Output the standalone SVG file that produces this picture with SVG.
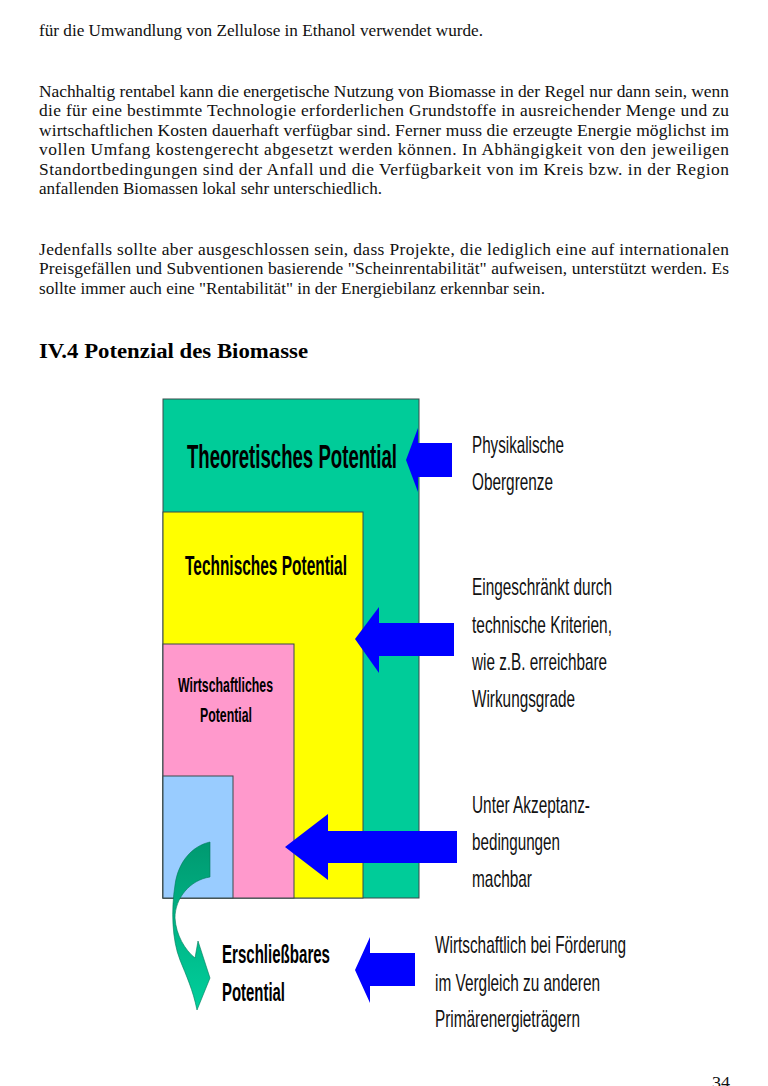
<svg xmlns="http://www.w3.org/2000/svg" width="768" height="1086" viewBox="0 0 768 1086">
<style>
.body{font-family:'Times New Roman','Liberation Serif',Tinos,serif;font-size:16px;fill:#111}
.head{font-family:'Times New Roman','Liberation Serif',Tinos,serif;font-size:20px;font-weight:bold;fill:#000}
.lb{font-family:'Liberation Sans',Arial,sans-serif;font-weight:bold;fill:#000}
.lr{font-family:'Liberation Sans',Arial,sans-serif;font-size:24px;fill:#111}
.layer{stroke:#3a4a4a;stroke-width:1}
.arrow{fill:#0000FF}
</style>
<defs>
<linearGradient id="gcurve" x1="0" y1="0" x2="0" y2="1">
<stop offset="0" stop-color="#009970"/>
<stop offset="1" stop-color="#00D09C"/>
</linearGradient>
</defs>
<rect x="0" y="0" width="768" height="1086" fill="#ffffff"/>
<g id="text-body" transform="scale(1.09,1)">
<text class="body" x="35.78" y="36" textLength="407.3" lengthAdjust="spacingAndGlyphs">für die Umwandlung von Zellulose in Ethanol verwendet wurde.</text>
<text class="body" x="35.78" y="97" textLength="633" lengthAdjust="spacing">Nachhaltig rentabel kann die energetische Nutzung von Biomasse in der Regel nur dann sein, wenn</text>
<text class="body" x="35.78" y="116.5" textLength="633" lengthAdjust="spacing">die für eine bestimmte Technologie erforderlichen Grundstoffe in ausreichender Menge und zu</text>
<text class="body" x="35.78" y="136" textLength="633" lengthAdjust="spacing">wirtschaftlichen Kosten dauerhaft verfügbar sind. Ferner muss die erzeugte Energie möglichst im</text>
<text class="body" x="35.78" y="155.5" textLength="633" lengthAdjust="spacing">vollen Umfang kostengerecht abgesetzt werden können. In Abhängigkeit von den jeweiligen</text>
<text class="body" x="35.78" y="175" textLength="633" lengthAdjust="spacing">Standortbedingungen sind der Anfall und die Verfügbarkeit von im Kreis bzw. in der Region</text>
<text class="body" x="35.78" y="194.5" textLength="314.7" lengthAdjust="spacingAndGlyphs">anfallenden Biomassen lokal sehr unterschiedlich.</text>
<text class="body" x="35.78" y="255" textLength="633" lengthAdjust="spacing">Jedenfalls sollte aber ausgeschlossen sein, dass Projekte, die lediglich eine auf internationalen</text>
<text class="body" x="35.78" y="274.5" textLength="633" lengthAdjust="spacing">Preisgefällen und Subventionen basierende "Scheinrentabilität" aufweisen, unterstützt werden. Es</text>
<text class="body" x="35.78" y="294" textLength="464.2" lengthAdjust="spacingAndGlyphs">sollte immer auch eine "Rentabilität" in der Energiebilanz erkennbar sein.</text>
<text class="head" x="35.78" y="358" textLength="246.8" lengthAdjust="spacingAndGlyphs">IV.4 Potenzial des Biomasse</text>
<text class="body" x="653.2" y="1088" textLength="16.5" lengthAdjust="spacingAndGlyphs">34</text>
</g>
<g id="theoretisch">
<rect class="layer" x="163" y="399" width="256" height="499" fill="#00CC99"/>
<text class="lb" x="187" y="468" font-size="34" textLength="210" lengthAdjust="spacingAndGlyphs">Theoretisches Potential</text>
</g>
<g id="technisch">
<rect class="layer" x="163" y="512" width="200" height="386" fill="#FFFF00"/>
<text class="lb" x="185" y="575" font-size="27" textLength="162" lengthAdjust="spacingAndGlyphs">Technisches Potential</text>
</g>
<g id="wirtschaftlich">
<rect class="layer" x="163" y="644" width="131" height="254" fill="#FF99CC"/>
<text class="lb" x="178" y="692" font-size="20" textLength="95" lengthAdjust="spacingAndGlyphs">Wirtschaftliches</text>
<text class="lb" x="200" y="722" font-size="20" textLength="52" lengthAdjust="spacingAndGlyphs">Potential</text>
</g>
<g id="erschliessbar-box">
<rect class="layer" x="163" y="776" width="70" height="122" fill="#99CCFF"/>
</g>
<g id="erschliessbar-label">
<text class="lb" x="222" y="963" font-size="25" textLength="108" lengthAdjust="spacingAndGlyphs">Erschließbares</text>
<text class="lb" x="222" y="1001" font-size="25" textLength="63" lengthAdjust="spacingAndGlyphs">Potential</text>
</g>
<g id="label-physikalisch">
<text class="lr" x="472" y="453" textLength="92" lengthAdjust="spacingAndGlyphs">Physikalische</text>
<text class="lr" x="472" y="490" textLength="81" lengthAdjust="spacingAndGlyphs">Obergrenze</text>
</g>
<g id="label-technisch">
<text class="lr" x="472" y="595" textLength="140" lengthAdjust="spacingAndGlyphs">Eingeschränkt durch</text>
<text class="lr" x="472" y="633" textLength="140" lengthAdjust="spacingAndGlyphs">technische Kriterien,</text>
<text class="lr" x="472" y="670" textLength="135" lengthAdjust="spacingAndGlyphs">wie z.B. erreichbare</text>
<text class="lr" x="472" y="707" textLength="103" lengthAdjust="spacingAndGlyphs">Wirkungsgrade</text>
</g>
<g id="label-akzeptanz">
<text class="lr" x="472" y="813" textLength="118" lengthAdjust="spacingAndGlyphs">Unter Akzeptanz-</text>
<text class="lr" x="472" y="850" textLength="88" lengthAdjust="spacingAndGlyphs">bedingungen</text>
<text class="lr" x="472" y="887" textLength="60" lengthAdjust="spacingAndGlyphs">machbar</text>
</g>
<g id="label-foerderung">
<text class="lr" x="435" y="953" textLength="191" lengthAdjust="spacingAndGlyphs">Wirtschaftlich bei Förderung</text>
<text class="lr" x="435" y="991" textLength="165" lengthAdjust="spacingAndGlyphs">im Vergleich zu anderen</text>
<text class="lr" x="435" y="1027" textLength="145" lengthAdjust="spacingAndGlyphs">Primärenergieträgern</text>
</g>
<g id="connectors">
<path class="arrow" d="M452,443 L418,443 L418,428 L406,460 L418,492 L418,477 L452,477 Z"/>
<path class="arrow" d="M454,623 L379,623 L379,607 L355,639 L379,673 L379,656 L454,656 Z"/>
<path class="arrow" d="M457,831 L328,831 L328,814 L285,847 L328,880 L328,863 L457,863 Z"/>
<path class="arrow" d="M415,953 L370,953 L370,937 L355,970 L370,1003 L370,986 L415,986 Z"/>
<path fill="url(#gcurve)" stroke="#007a5a" stroke-width="0.6" d="M210,842 C192,846 178,862 175,885 C171,910 172,940 180,960 C186,975 193,990 197,1010 L210,978 L198,941 L195,958 C185,950 176,935 175,918 C175,898 190,880 210,877 Z"/>
</g>
</svg>
